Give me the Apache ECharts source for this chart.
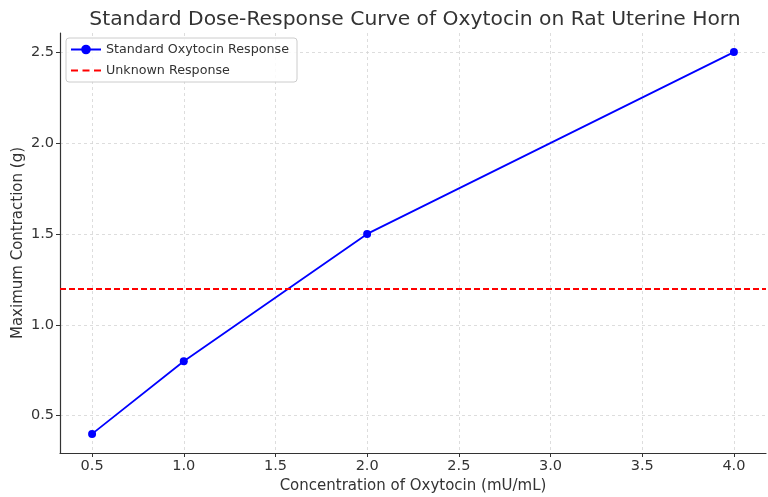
<!DOCTYPE html>
<html>
<head>
<meta charset="utf-8">
<script src="https://cdn.jsdelivr.net/npm/echarts@6/dist/echarts.min.js"></script>
<style>html,body{margin:0;padding:0;background:#fff}#c{width:768px;height:497px}</style>
</head>
<body>
<div id="c"></div>
<script>
var doses = [0.5, 1.0, 2.0, 4.0];
var responses = [0.4, 0.8, 1.5, 2.5];
var unknownResponse = 1.2;
var xTicks = [0.5, 1.0, 1.5, 2.0, 2.5, 3.0, 3.5, 4.0];
var yTicks = [0.5, 1.0, 1.5, 2.0, 2.5];

var xPad = (Math.max.apply(null, doses) - Math.min.apply(null, doses)) * 0.05;
var yPad = (Math.max.apply(null, responses) - Math.min.apply(null, responses)) * 0.05;
var xMin = Math.min.apply(null, doses) - xPad, xMax = Math.max.apply(null, doses) + xPad;
var yMin = Math.min.apply(null, responses) - yPad, yMax = Math.max.apply(null, responses) + yPad;

var font = 'DejaVu Sans';
var chart = echarts.init(document.getElementById('c'));
chart.setOption({
  animation: false,
  textStyle: {fontFamily: font},
  title: {
    text: 'Standard Dose-Response Curve of Oxytocin on Rat Uterine Horn',
    left: 410, top: 5, textAlign: 'center',
    textStyle: {fontFamily: font, fontSize: 20.3, fontWeight: 'normal', color: '#333'}
  },
  grid: {left: 60, right: 2, top: 33, bottom: 44, containLabel: false, outerBoundsMode: 'none'},
  legend: {
    orient: 'vertical', left: 66, top: 38,
    padding: [5, 8, 5, 4], itemGap: 8, itemWidth: 30, itemHeight: 12,
    backgroundColor: 'rgba(255,255,255,0.85)', borderColor: '#cccccc', borderWidth: 1, borderRadius: 3,
    textStyle: {fontFamily: font, fontSize: 12.7, color: '#333'},
    data: [
      {name: 'Standard Oxytocin Response'},
      {name: 'Unknown Response', itemStyle: {color: 'rgba(0,0,0,0)', borderWidth: 0},
        lineStyle: {type: [7, 4.5], width: 1.8, color: '#ff0000'}}
    ]
  },
  xAxis: {
    type: 'value', min: xMin, max: xMax,
    name: 'Concentration of Oxytocin (mU/mL)', nameLocation: 'middle', nameGap: 26, nameMoveOverlap: false,
    nameTextStyle: {fontFamily: font, fontSize: 15, color: '#333'},
    axisLine: {lineStyle: {color: '#333', width: 1.2}},
    axisTick: {show: true, customValues: xTicks, length: 4, lineStyle: {color: '#333'}},
    axisLabel: {customValues: xTicks, fontFamily: font, fontSize: 14.5, color: '#333', margin: 6,
      formatter: function (v) { return v.toFixed(1); }},
    splitLine: {show: true, lineStyle: {color: '#d5d5d5', type: [3, 3], width: 0.8}}
  },
  yAxis: {
    type: 'value', min: yMin, max: yMax,
    name: 'Maximum Contraction (g)', nameLocation: 'middle', nameGap: 34, nameMoveOverlap: false,
    nameTextStyle: {fontFamily: font, fontSize: 15, color: '#333'},
    axisLine: {show: true, lineStyle: {color: '#333', width: 1.2}},
    axisTick: {show: true, customValues: yTicks, length: 4, lineStyle: {color: '#333'}},
    axisLabel: {customValues: yTicks, fontFamily: font, fontSize: 14.5, color: '#333', margin: 6,
      formatter: function (v) { return v.toFixed(1); }},
    splitLine: {show: true, lineStyle: {color: '#d5d5d5', type: [3, 3], width: 0.8}}
  },
  series: [
    {
      name: 'Standard Oxytocin Response', type: 'line',
      data: doses.map(function (d, i) { return [d, responses[i]]; }),
      symbol: 'circle', symbolSize: 8,
      lineStyle: {color: '#0000ff', width: 1.8},
      itemStyle: {color: '#0000ff'}
    },
    {
      name: 'Unknown Response', type: 'line', data: [],
      symbol: 'none',
      lineStyle: {color: '#ff0000', width: 1.8, type: [6, 3]},
      itemStyle: {color: '#ff0000'},
      markLine: {
        silent: true, symbol: 'none', label: {show: false},
        lineStyle: {color: '#ff0000', width: 1.8, type: [6, 3]},
        data: [{yAxis: unknownResponse}]
      }
    }
  ]
});
</script>
</body>
</html>
